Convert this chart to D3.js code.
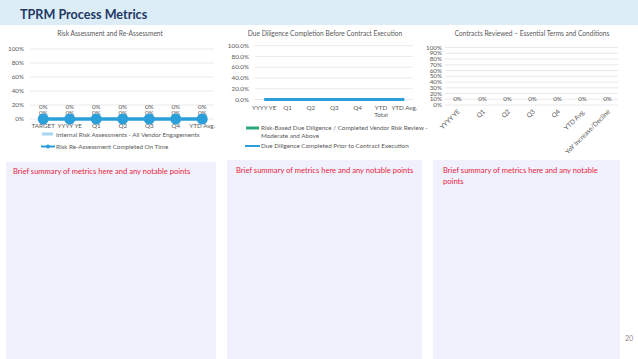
<!DOCTYPE html>
<html><head><meta charset="utf-8">
<script src="https://cdn.jsdelivr.net/npm/d3@7"></script>
<style>
html,body{margin:0;padding:0;background:#fff;}
svg{display:block;font-family:Lato,"Open Sans",sans-serif;}
</style></head>
<body>
<svg id="c" width="638" height="359"></svg>
<script>
// ---- Data ----
const pageTitle = "TPRM Process Metrics";
const pageNumber = "20";
const summaryText = "Brief summary of metrics here and any notable points";

const chart1Title = "Risk Assessment and Re-Assessment";
const chart1Categories = ["TARGET","YYYY YE","Q1","Q2","Q3","Q4","YTD Avg."];
const chart1BarName = "Internal Risk Assessments - All Vendor Engagements";
const chart1BarValues = [0,0,0,0,0,0,0];
const chart1LineName = "Risk Re-Assessment Completed On Time";
const chart1LineValues = [0,0,0,0,0,0,0];
const chart1Ticks = [0,0.2,0.4,0.6,0.8,1];

const chart2Title = "Due Diligence Completion Before Contract Execution";
const chart2Categories = [["YYYY YE"],["Q1"],["Q2"],["Q3"],["Q4"],["YTD","Total"],["YTD Avg."]];
const chart2BarName = ["Risk-Based Due Diligence / Completed Vendor Risk Review -","Moderate and Above"];
const chart2BarValues = [0,0,0,0,0,0,0];
const chart2LineName = "Due Diligence Completed Prior to Contract Execution";
const chart2LineValues = [0,0,0,0,0,0,0];
const chart2Ticks = [0,0.2,0.4,0.6,0.8,1];

const chart3Title = "Contracts Reviewed \u2013 Essential Terms and Conditions";
const chart3Categories = ["YYYY YE","Q1","Q2","Q3","Q4","YTD Avg.","YoY Increase/Decline"];
const chart3Values = [0,0,0,0,0,0,0];
const chart3Ticks = [0,0.1,0.2,0.3,0.4,0.5,0.6,0.7,0.8,0.9,1];

// ---- Styles ----
const blue = "#2b9fd9", lightBlue = "#a8d6f0", green = "#2ba87a";
const grid = "#e4e4e4", txt = "#595959";
const pct0 = d3.format(".0%"), pct1 = d3.format(".1%");

const svg = d3.select("#c");

// header
svg.append("rect").attr("x",0).attr("y",0).attr("width",638).attr("height",25).attr("fill","#dcedf8");
svg.append("text").attr("x",20).attr("y",18.5).attr("font-size",12.6).attr("font-weight",700)
  .attr("fill","#1f3864").text(pageTitle);

// summary panels
const panels = [{x:6,y:162,w:210},{x:227,y:160,w:195},{x:433,y:160,w:187}];
panels.forEach((p,i)=>{
  svg.append("rect").attr("x",p.x).attr("y",p.y).attr("width",p.w).attr("height",359-p.y).attr("fill","#f1f1fd");
});
const sumText = [
  {x:13,y:174,lines:[summaryText]},
  {x:236,y:173,lines:[summaryText]},
  {x:443,y:173,lines:["Brief summary of metrics here and any notable","points"]}
];
sumText.forEach(s=>{
  const t = svg.append("text").attr("x",s.x).attr("y",s.y).attr("font-size",7.6).attr("fill","#e8243c");
  s.lines.forEach((l,i)=>t.append("tspan").attr("x",s.x).attr("dy",i?10.5:0).text(l));
});
svg.append("text").attr("x",633).attr("y",341).attr("text-anchor","end").attr("font-size",7).attr("fill","#8c8c8c").text(pageNumber);

function yAxisGrid(g, y, ticks, x0, x1, fmt, labelX){
  ticks.forEach(t=>{
    g.append("line").attr("x1",x0).attr("x2",x1).attr("y1",y(t)).attr("y2",y(t)).attr("stroke",grid).attr("stroke-width",0.8);
    g.append("text").attr("x",labelX).attr("y",y(t)).attr("dy","0.35em").attr("text-anchor","end")
      .attr("font-size",6.3).attr("fill",txt).text(fmt(t));
  });
}

// ---- Chart 1 ----
{
  const g = svg.append("g");
  g.append("text").attr("x",110).attr("y",36).attr("text-anchor","middle").attr("font-size",6.6).attr("fill",txt).text(chart1Title);
  const x = d3.scaleBand().domain(chart1Categories).range([30,215.5]);
  const y = d3.scaleLinear().domain([0,1]).range([119,49]);
  yAxisGrid(g,y,chart1Ticks,30,214,pct0,24);
  const cx = c=>x(c)+x.bandwidth()/2;
  g.selectAll(".b").data(chart1Categories).join("rect").attr("x",c=>cx(c)-7).attr("width",14)
    .attr("y",(c,i)=>y(chart1BarValues[i])).attr("height",(c,i)=>y(0)-y(chart1BarValues[i])).attr("fill",lightBlue);
  chart1Categories.forEach((c,i)=>{
    g.append("text").attr("x",cx(c)).attr("y",y(chart1BarValues[i])-10).attr("text-anchor","middle").attr("font-size",6.3).attr("fill",txt).text(pct0(chart1BarValues[i]));
    g.append("text").attr("x",cx(c)).attr("y",y(chart1LineValues[i])-4.5).attr("text-anchor","middle").attr("font-size",6.3).attr("fill",txt).text(pct0(chart1LineValues[i]));
  });
  const line = d3.line().x((d,i)=>cx(chart1Categories[i])).y(d=>y(d));
  g.append("path").datum(chart1LineValues).attr("d",line).attr("fill","none").attr("stroke",blue).attr("stroke-width",3.5);
  g.selectAll(".p").data(chart1LineValues).join("circle").attr("cx",(d,i)=>cx(chart1Categories[i])).attr("cy",d=>y(d)).attr("r",5.5).attr("fill",blue);
  chart1Categories.forEach(c=>{
    g.append("text").attr("x",cx(c)).attr("y",127.5).attr("text-anchor","middle").attr("font-size",6.3).attr("fill",txt).text(c);
  });
  g.append("rect").attr("x",42).attr("y",132.5).attr("width",11).attr("height",3).attr("fill",lightBlue);
  g.append("text").attr("x",56).attr("y",136.5).attr("font-size",6.3).attr("fill",txt).text(chart1BarName);
  g.append("line").attr("x1",41).attr("x2",55).attr("y1",146.5).attr("y2",146.5).attr("stroke",blue).attr("stroke-width",2);
  g.append("circle").attr("cx",48).attr("cy",146.5).attr("r",2).attr("fill",blue);
  g.append("text").attr("x",56).attr("y",148.8).attr("font-size",6.3).attr("fill",txt).text(chart1LineName);
}

// ---- Chart 2 ----
{
  const g = svg.append("g");
  g.append("text").attr("x",325).attr("y",36).attr("text-anchor","middle").attr("font-size",6.6).attr("fill",txt).text(chart2Title);
  const names = chart2Categories.map(d=>d.join(" "));
  const x = d3.scaleBand().domain(names).range([252.5,416]);
  const y = d3.scaleLinear().domain([0,1]).range([99.5,45.7]);
  yAxisGrid(g,y,chart2Ticks,255,413,pct1,249);
  const cx = c=>x(c)+x.bandwidth()/2;
  g.selectAll(".b").data(names).join("rect").attr("x",c=>cx(c)-6).attr("width",12)
    .attr("y",(c,i)=>y(chart2BarValues[i])).attr("height",(c,i)=>y(0)-y(chart2BarValues[i])).attr("fill",green);
  const line = d3.line().x((d,i)=>cx(names[i])).y(d=>y(d));
  g.append("path").datum(chart2LineValues).attr("d",line).attr("fill","none").attr("stroke",blue).attr("stroke-width",3);
  chart2Categories.forEach((c,i)=>{
    const t = g.append("text").attr("x",cx(names[i])).attr("y",109.5).attr("text-anchor","middle").attr("font-size",6.3).attr("fill",txt);
    c.forEach((l,j)=>t.append("tspan").attr("x",cx(names[i])).attr("dy",j?7.3:0).text(l));
  });
  g.append("rect").attr("x",246).attr("y",126.5).attr("width",13).attr("height",3).attr("fill",green);
  const t = g.append("text").attr("x",261).attr("y",130.3).attr("font-size",6.3).attr("fill",txt);
  chart2BarName.forEach((l,j)=>t.append("tspan").attr("x",261).attr("dy",j?7.3:0).text(l));
  g.append("line").attr("x1",245).attr("x2",260).attr("y1",146).attr("y2",146).attr("stroke",blue).attr("stroke-width",2);
  g.append("text").attr("x",261).attr("y",148.3).attr("font-size",6.3).attr("fill",txt).text(chart2LineName);
}

// ---- Chart 3 ----
{
  const g = svg.append("g");
  g.append("text").attr("x",532).attr("y",36).attr("text-anchor","middle").attr("font-size",6.6).attr("fill",txt).text(chart3Title);
  const x = d3.scaleBand().domain(chart3Categories).range([445,620]);
  const y = d3.scaleLinear().domain([0,1]).range([105,47.5]);
  yAxisGrid(g,y,chart3Ticks,445,618,pct0,442);
  const cx = c=>x(c)+x.bandwidth()/2;
  g.selectAll(".b").data(chart3Categories).join("rect").attr("x",c=>cx(c)-7).attr("width",14)
    .attr("y",(c,i)=>y(chart3Values[i])).attr("height",(c,i)=>y(0)-y(chart3Values[i])).attr("fill",blue);
  chart3Categories.forEach((c,i)=>{
    g.append("text").attr("x",cx(c)).attr("y",y(0.1)+2).attr("text-anchor","middle").attr("font-size",6.3).attr("fill",txt).text(pct0(chart3Values[i]));
    g.append("text").attr("transform",`translate(${cx(c)+3},${112}) rotate(-45)`).attr("text-anchor","end")
      .attr("font-size",6.5).attr("fill",txt).text(c);
  });
}
</script>
</body></html>
